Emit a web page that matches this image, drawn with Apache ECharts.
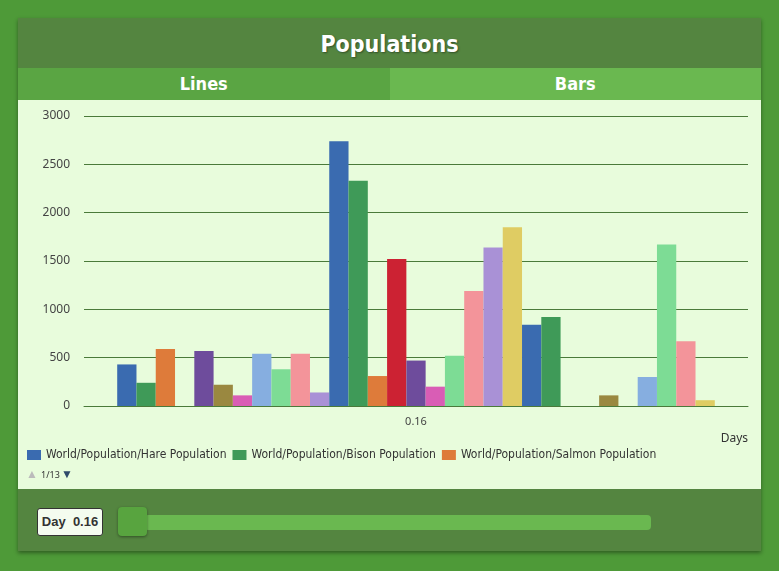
<!DOCTYPE html>
<html><head><meta charset="utf-8">
<script src="https://cdn.jsdelivr.net/npm/echarts@6/dist/echarts.min.js"></script>
<style>
body{margin:0;width:779px;height:571px;background:#4e9a38;font-family:"Noto Sans",sans-serif;overflow:hidden}
#panel{position:absolute;left:18px;top:18px;width:743px;height:533px;background:#548540;box-shadow:0 2px 4px rgba(0,0,0,.4)}
#title{height:50px;line-height:52px;text-align:center;color:#fff;font-family:"DejaVu Sans Condensed","Liberation Sans Narrow",sans-serif;font-size:23px;font-weight:bold;text-shadow:1px 1px 2px rgba(0,0,0,.4)}
#tabs{height:32px;display:flex;color:#fff;font-family:"DejaVu Sans Condensed",sans-serif;font-size:18px;font-weight:bold;line-height:32px;text-align:center}
#tabs div{flex:1}
#chart{position:absolute;left:0;top:82px;width:743px;height:389px;background:#e8fcdc}
#foot{position:absolute;left:0;top:471px;width:743px;height:62px}
#day{position:absolute;left:19px;top:19px;width:64px;height:26px;background:#f4fcef;border:1px solid #333;border-radius:3px;font-family:"Liberation Sans",sans-serif;font-size:13px;line-height:26px;text-align:center;font-weight:bold;color:#333}
#track{position:absolute;left:126px;top:26px;width:507px;height:15px;background:#6ab850;border-radius:4px}
#knob{position:absolute;left:100px;top:18px;width:29px;height:29px;background:#58a43f;border-radius:4px;box-shadow:0 1px 3px rgba(0,0,0,.4)}
</style></head><body>
<div id="panel">
<div id="title">Populations</div>
<div id="tabs"><div style="background:#5aa543">Lines</div><div style="background:#6ab850">Bars</div></div>
<div id="chart"></div>
<div id="foot"><div id="day">Day&nbsp; 0.16</div><div id="track"></div><div id="knob"></div></div>
</div>
<script>
const categories = ["0.16"];
const seriesNames = ["Hare","Bison","Salmon","Series 4","Series 5","Series 6","Series 7","Series 8","Series 9","Series 10","Series 11","Series 12","Series 13","Series 14","Series 15","Series 16","Series 17","Series 18","Series 19","Series 20","Series 21","Series 22","Series 23","Series 24","Series 25","Series 26","Series 27","Series 28","Series 29","Series 30","Series 31"];
const seriesValues = [430,240,590,0,570,220,110,540,380,540,140,2740,2330,310,1520,470,200,520,1190,1640,1850,840,920,0,0,110,0,300,1670,670,60];
const seriesColors = ["#3a6bb0","#3f9a58","#de7b3a","#888888","#6e4c9c","#9a8840","#d95db5","#86aee0","#7ddc95","#f3949a","#a991d6","#3a6bb0","#3f9a58","#de7b3a","#cc2233","#6e4c9c","#d95db5","#7ddc95","#f3949a","#a991d6","#dfcc63","#3a6bb0","#3f9a58","#888888","#888888","#9a8840","#888888","#86aee0","#7ddc95","#f3949a","#dfcc63"];
const yTicks = [0,500,1000,1500,2000,2500,3000];
const names = seriesNames.map(n => "World/Population/" + n + " Population");
const chart = echarts.init(document.getElementById('chart'));
const font = "Noto Sans";
chart.setOption({
  animation:false,
  textStyle:{fontFamily:font},
  grid:{left:66,right:13,top:16,bottom:83},
  legend:{data:names.slice(0,3),left:4,top:344,icon:'rect',itemWidth:14,itemHeight:10,itemGap:6,
    textStyle:{fontSize:12,color:'#333',fontFamily:"DejaVu Sans Condensed"}},
  graphic:[{type:'text',left:8,top:369,style:{text:'▲',fill:'#bbb',font:'12px '+font}},
           {type:'text',left:23,top:371,style:{text:'1/13',fill:'#333',font:'9px '+font}},
           {type:'text',left:43,top:369,style:{text:'▼',fill:'#2f4a6a',font:'12px '+font}},
           {type:'text',right:13,top:333,style:{text:'Days',fill:'#333',font:'12px '+font}}],
  xAxis:{type:'category',data:categories,
    axisLine:{lineStyle:{color:'#4a7a3a'}},axisTick:{alignWithLabel:true,length:6,lineStyle:{color:'#4a7a3a'}},
    axisLabel:{color:'#444',fontSize:11,margin:10}},
  yAxis:{type:'value',min:yTicks[0],max:yTicks[yTicks.length-1],interval:500,
    axisLabel:{color:'#444',fontSize:12,margin:14,formatter:v=>String(v)},
    splitLine:{lineStyle:{color:'#4a7a3a'}},axisLine:{show:false}},
  series:seriesValues.map((v,i)=>({type:'bar',name:names[i],data:[v],barGap:0,barCategoryGap:'10%',
    itemStyle:{color:seriesColors[i]}}))
});
</script></body></html>
